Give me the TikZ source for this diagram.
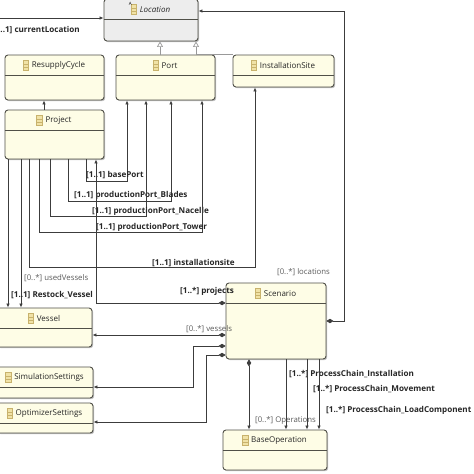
\documentclass[tikz,border=0pt]{standalone}
\usepackage{fontspec}
\setmainfont{Open Sans}
\usetikzlibrary{arrows.meta,shadows,positioning}

\definecolor{classfill}{HTML}{FEFDE6}
\definecolor{classline}{HTML}{505048}
\definecolor{abstractfill}{HTML}{EDEDED}
\definecolor{iconfill}{HTML}{F0E2A6}
\definecolor{iconline}{HTML}{C8B26C}
\definecolor{linecol}{HTML}{3C3C3C}
\definecolor{labelgray}{HTML}{5A5A5A}

\begin{document}
\begin{tikzpicture}[x=1pt, y=-1pt,
  classbox/.style={draw=classline, line width=0.9pt, fill=classfill, rounded corners=3pt,
    drop shadow={shadow xshift=1.2pt, shadow yshift=-1.2pt, opacity=.5}},
  divider/.style={draw=classline, line width=0.9pt},
  classtitle/.style={font=\fontsize{8}{9}\selectfont, text=black!85, inner sep=0pt},
  classicon/.style={draw=iconline, fill=iconfill, line width=0.4pt, minimum width=5.5pt, minimum height=10pt, inner sep=0pt,
    path picture={
      \draw[iconline, line width=0.4pt] ([yshift=1.7pt]path picture bounding box.west) -- ([yshift=1.7pt]path picture bounding box.east);
      \draw[iconline, line width=0.4pt] ([yshift=-1.7pt]path picture bounding box.west) -- ([yshift=-1.7pt]path picture bounding box.east);
    }},
  assoc/.style={draw=linecol, line width=0.7pt, -{Latex[length=4pt,width=3.5pt]}},
  comp/.style={assoc, {Diamond[length=7pt,width=4.5pt]}-{Latex[length=4pt,width=3.5pt]}},
  gen/.style={draw=black!40, line width=0.7pt, -{Triangle[open, length=5.5pt, width=6pt, fill=white]}},
  rolebold/.style={font=\fontsize{8.1}{9}\selectfont\bfseries, text=black!85, inner sep=0pt, anchor=west},
  rolethin/.style={font=\fontsize{7.8}{9}\selectfont, text=labelgray, inner sep=0pt, anchor=west},
]

\def \hdr {21pt}
\def \ttl {11pt}

\clip (0,0) rectangle (474,474);

% abstract class
\node (location) [classbox, fill=abstractfill, minimum width=94, minimum height=42] at (151,20) {};
\draw[divider] ([yshift=-\hdr]location.north west) -- ([yshift=-\hdr]location.north east);
\node (location-t) [classtitle, font=\fontsize{8}{9}\selectfont\itshape] at ([xshift=4pt, yshift=-\ttl]location.north) {Location};
\node (location-i) [classicon, left=3pt of location-t] {};
\node (location-a) [font=\fontsize{4.5}{5}\selectfont, inner sep=0pt] at ([xshift=-0.5pt, yshift=0.5pt]location-i.north west) {A};

% classes
\foreach \n/\cx/\cy/\w/\h/\t in {resupply/54.5/77.5/99/45/ResupplyCycle,
  port/165.5/77.5/99/45/Port,
  installation/283.5/71/101/32/InstallationSite,
  project/54.5/134.5/99/49/Project,
  vessel/44.5/327.5/95/39/Vessel,
  simsettings/45/382.5/96/31/SimulationSettings,
  optsettings/45/418/96/30/OptimizerSettings,
  scenario/276/321/100/76/Scenario,
  baseop/275/450/104/40/BaseOperation}
{
  \node (\n) [classbox, minimum width=\w, minimum height=\h] at (\cx,\cy) {};
  \draw[divider] ([yshift=-\hdr]\n.north west) -- ([yshift=-\hdr]\n.north east);
  \node (\n-t) [classtitle] at ([xshift=4pt, yshift=-\ttl]\n.north) {\t};
  \node (\n-i) [classicon, left=3pt of \n-t] {};
}

% generalizations
\draw[gen] (port.north -| 160,0) -- (location.south -| 160,0);
\draw[gen] (installation.north west) -| (location.south -| 196,0);

% references to Location
\coordinate (cl-start) at (-30,18);
\draw[assoc] (cl-start) -- (location.west |- 0,18);
\node (cl-l) [rolebold, anchor=east] at (80,30) {[1..1] currentLocation};

\draw[comp] (scenario.east |- 0,321) -| (344,11) -- (location.east |- 0,11);
\node (loc-l) [rolethin] at (277,272) {[0..*] locations};

% Project
\draw[assoc] (project.north -| 44,0) -- (resupply.south -| 44,0);

\foreach \sx/\hy/\tx/\lx/\ly/\role [count=\k] in {86/181/127/86/175/basePort,
  68/201/171/74/195/productionPort\_Blades,
  50/216/146/92/211/productionPort\_Nacelle,
  39/232/202/96/227/productionPort\_Tower}
{
  \draw[assoc] (project.south -| \sx,0) |- (\tx,\hy) -- (port.south -| \tx,0);
  \node (port-l\k) [rolebold] at (\lx,\ly) {[1..1] \role};
}

\draw[assoc] (project.south -| 29,0) |- (255,267) -- (installation.south -| 255,0);
\node (inst-l) [rolebold] at (152,263) {[1..1] installationsite};

\draw[assoc] (project.south -| 8,0) -- (vessel.north -| 8,0);
\node (used-l) [rolethin] at (24,278) {[0..*] usedVessels};
\draw[assoc] (project.south -| 21,0) -- (vessel.north -| 21,0);
\node (restock-l) [rolebold] at (11,295) {[1..1] Restock\_Vessel};

% Scenario
\draw[comp] (scenario.west |- 0,303) -| (project.south -| 96,0);
\node (proj-l) [rolebold] at (180,291) {[1..*] projects};

\draw[comp] (scenario.west |- 0,335) -- (vessel.east |- 0,335);
\node (ves-l) [rolethin] at (186,329) {[0..*] vessels};

\draw[comp] (scenario.west |- 0,346) -| (193,387) -- (simsettings.east |- 0,387);
\draw[comp] (scenario.west |- 0,355) -| (206,422) -- (optsettings.east |- 0,422);

\draw[comp] (scenario.south -| 249,0) -- (baseop.north -| 249,0);
\node (ops-l) [rolethin] at (255,420) {[0..*] Operations};

\foreach \px/\lx/\ly/\role [count=\k] in {286/289/374/Installation,
  307/313/389/Movement,
  319/326/410/LoadComponent}
{
  \draw[assoc] (scenario.south -| \px,0) -- (baseop.north -| \px,0);
  \node (chain-l\k) [rolebold] at (\lx,\ly) {[1..*] ProcessChain\_\role};
}

\end{tikzpicture}
\end{document}
